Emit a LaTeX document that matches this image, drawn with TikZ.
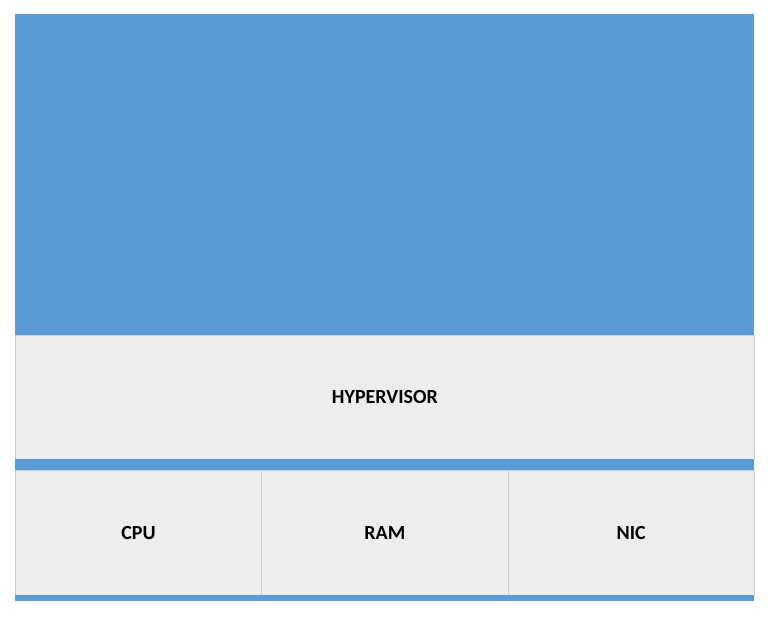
\documentclass[tikz,border=0pt]{standalone}
\usepackage{fontspec}
\setmainfont{Carlito}
\definecolor{officeblue}{HTML}{5B9BD5}
\definecolor{panelgray}{HTML}{EDEDED}
\definecolor{edgegray}{HTML}{CFCFCF}
\begin{document}
\begin{tikzpicture}[x=1pt,y=-1pt,
  bluebar/.style={fill=officeblue,draw=none},
  panel/.style={fill=panelgray,draw=edgegray,line width=0.8pt,inner sep=0pt},
  lbl/.style={font=\fontsize{20}{24}\selectfont\bfseries,text=black}]
\useasboundingbox[fill=white] (0,0) rectangle (768,618);
\fill[officeblue] (15,14) rectangle (754,335);
\node[panel,minimum width=739pt,minimum height=124pt,anchor=north west] (hyp) at (15,335) {};
\node[lbl] (hyplbl) at (hyp.center) {HYPERVISOR};
\fill[officeblue] (15,459) rectangle (754,470);
\node[panel,minimum width=246.3pt,minimum height=125pt,anchor=north west] (cpu) at (15,470) {};
\node[panel,minimum width=246.3pt,minimum height=125pt,anchor=north west] (ram) at (261.3,470) {};
\node[panel,minimum width=246.4pt,minimum height=125pt,anchor=north west] (nic) at (507.6,470) {};
\node[lbl] (cpulbl) at (cpu.center) {CPU};
\node[lbl] (ramlbl) at (ram.center) {RAM};
\node[lbl] (niclbl) at (nic.center) {NIC};
\fill[officeblue] (15,595) rectangle (754,601);
\end{tikzpicture}
\end{document}
